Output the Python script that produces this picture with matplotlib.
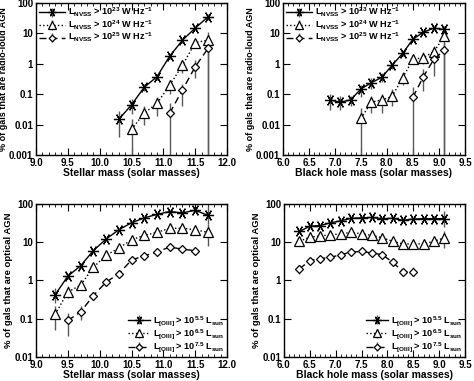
import numpy as np
import matplotlib
matplotlib.use("Agg")
import matplotlib.pyplot as plt
from matplotlib.ticker import FixedLocator, FuncFormatter, MultipleLocator, NullLocator

plt.rcParams['font.family'] = ['Liberation Sans', 'DejaVu Sans']
plt.rcParams['font.weight'] = 'bold'
plt.rcParams['mathtext.fontset'] = 'custom'
plt.rcParams['mathtext.rm'] = 'Liberation Sans:bold'
plt.rcParams['mathtext.bf'] = 'Liberation Sans:bold'
plt.rcParams['mathtext.it'] = 'Liberation Sans:bold'
plt.rcParams['mathtext.default'] = 'rm'

# ---- data: radio-loud AGN vs stellar mass ----
rs_x1 = [10.3, 10.5, 10.7, 10.9, 11.1, 11.3, 11.5, 11.7]
rs_y1 = [0.015, 0.045, 0.17, 0.38, 1.8, 6.0, 15.0, 35.0]
rs_lo1 = [0.004, 0.022, 0.13, 0.3, 1.5, 5.0, 13.0, 27.0]
rs_hi1 = [0.028, 0.07, 0.22, 0.46, 2.1, 7.0, 17.5, 45.0]
rs_x2 = [10.5, 10.7, 10.9, 11.1, 11.3, 11.5, 11.7]
rs_y2 = [0.007, 0.024, 0.05, 0.2, 0.9, 5.0, 6.0]
rs_lo2 = [0.0005, 0.01, 0.02, 0.1, 0.5, 3.5, 0.0005]
rs_hi2 = [0.015, 0.04, 0.08, 0.3, 1.3, 6.3, 11.0]
rs_x3 = [11.1, 11.3, 11.5, 11.7]
rs_y3 = [0.024, 0.14, 0.8, 3.2]
rs_lo3 = [0.0005, 0.04, 0.35, 0.0005]
rs_hi3 = [0.05, 0.22, 1.3, 6.0]

# ---- data: radio-loud AGN vs black hole mass ----
rb_x1 = [6.9, 7.1, 7.3, 7.5, 7.7, 7.9, 8.1, 8.3, 8.5, 8.7, 8.9, 9.1]
rb_y1 = [0.065, 0.055, 0.065, 0.15, 0.24, 0.36, 0.9, 2.2, 6.5, 11.0, 15.0, 13.5]
rb_lo1 = [0.03, 0.03, 0.04, 0.08, 0.15, 0.25, 0.7, 1.8, 5.5, 9.5, 13.0, 10.0]
rb_hi1 = [0.1, 0.09, 0.09, 0.2, 0.33, 0.5, 1.1, 2.6, 7.5, 12.5, 17.0, 17.0]
rb_x2 = [7.5, 7.7, 7.9, 8.1, 8.3, 8.5, 8.7, 8.9, 9.1]
rb_y2 = [0.016, 0.055, 0.065, 0.085, 0.35, 1.4, 1.6, 2.5, 8.0]
rb_lo2 = [0.0005, 0.025, 0.025, 0.04, 0.2, 1.0, 1.0, 1.5, 0.0005]
rb_hi2 = [0.035, 0.09, 0.1, 0.15, 0.55, 1.9, 2.5, 4.0, 13.0]
rb_x3 = [8.5, 8.7, 8.9, 9.1]
rb_y3 = [0.08, 0.38, 1.4, 2.8]
rb_lo3 = [0.0005, 0.13, 0.4, 0.0005]
rb_hi3 = [0.17, 0.7, 2.3, 5.0]

# ---- data: optical AGN vs stellar mass ----
os_x1 = [9.3, 9.5, 9.7, 9.9, 10.1, 10.3, 10.5, 10.7, 10.9, 11.1, 11.3, 11.5, 11.7]
os_y1 = [0.42, 1.3, 2.4, 6.0, 12.0, 21.0, 32.0, 43.0, 53.0, 63.0, 58.0, 68.0, 50.0]
os_lo1 = [0.25, 1.1, 2.1, 5.5, 11.0, 19.5, 30.0, 40.0, 49.0, 58.0, 53.0, 60.0, 30.0]
os_hi1 = [0.65, 1.5, 2.7, 6.5, 13.0, 22.5, 34.0, 46.0, 57.0, 68.0, 63.0, 76.0, 90.0]
os_x2 = [9.3, 9.5, 9.7, 9.9, 10.1, 10.3, 10.5, 10.7, 10.9, 11.1, 11.3, 11.5, 11.7]
os_y2 = [0.13, 0.5, 0.75, 2.2, 4.5, 7.0, 11.5, 15.0, 18.0, 23.0, 23.0, 21.0, 18.0]
os_lo2 = [0.05, 0.35, 0.62, 2.0, 4.1, 6.5, 10.8, 14.0, 16.8, 21.0, 21.0, 19.0, 8.0]
os_hi2 = [0.22, 0.7, 0.9, 2.4, 4.9, 7.5, 12.2, 16.0, 19.2, 25.0, 25.0, 23.0, 30.0]
os_x3 = [9.5, 9.7, 9.9, 10.1, 10.3, 10.5, 10.7, 10.9, 11.1, 11.3, 11.5]
os_y3 = [0.09, 0.15, 0.4, 0.9, 1.5, 3.4, 4.4, 5.5, 7.5, 6.5, 6.0]
os_lo3 = [0.035, 0.09, 0.3, 0.78, 1.35, 3.1, 4.0, 5.0, 6.8, 5.8, 5.2]
os_hi3 = [0.14, 0.21, 0.5, 1.02, 1.65, 3.7, 4.8, 6.0, 8.2, 7.2, 6.8]

# ---- data: optical AGN vs black hole mass ----
ob_x1 = [6.3, 6.5, 6.7, 6.9, 7.1, 7.3, 7.5, 7.7, 7.9, 8.1, 8.3, 8.5, 8.7, 8.9, 9.1]
ob_y1 = [19.0, 26.0, 27.0, 32.0, 36.0, 42.0, 43.0, 44.0, 41.0, 42.0, 37.0, 40.0, 41.0, 41.0, 41.0]
ob_lo1 = [17.0, 24.5, 25.5, 30.5, 34.5, 40.5, 41.5, 42.0, 39.0, 39.5, 34.5, 37.0, 37.0, 35.0, 25.0]
ob_hi1 = [21.0, 27.5, 28.5, 33.5, 37.5, 43.5, 44.5, 46.0, 43.0, 44.5, 39.5, 43.0, 45.0, 47.0, 65.0]
ob_x2 = [6.3, 6.5, 6.7, 6.9, 7.1, 7.3, 7.5, 7.7, 7.9, 8.1, 8.3, 8.5, 8.7, 8.9, 9.1]
ob_y2 = [10.5, 13.5, 14.5, 15.5, 16.5, 18.0, 16.5, 15.0, 13.0, 10.5, 9.0, 9.0, 9.0, 10.5, 13.0]
ob_lo2 = [9.5, 12.7, 13.8, 14.8, 15.8, 17.2, 15.8, 14.2, 12.2, 9.7, 8.2, 8.0, 7.8, 8.5, 7.0]
ob_hi2 = [11.5, 14.3, 15.2, 16.2, 17.2, 18.8, 17.2, 15.8, 13.8, 11.3, 9.8, 10.0, 10.2, 12.5, 20.0]
ob_x3 = [6.3, 6.5, 6.7, 6.9, 7.1, 7.3, 7.5, 7.7, 7.9, 8.1, 8.3, 8.5]
ob_y3 = [2.0, 3.3, 3.7, 4.0, 4.7, 5.5, 5.7, 5.2, 4.7, 3.0, 1.7, 1.7]
ob_lo3 = [1.5, 3.0, 3.4, 3.7, 4.4, 5.1, 5.3, 4.8, 4.3, 2.6, 1.45, 1.3]
ob_hi3 = [2.6, 3.6, 4.0, 4.3, 5.0, 5.9, 6.1, 5.6, 5.1, 3.4, 1.95, 2.2]

radio_labels = [r'L$_{\rm NVSS}$ > 10$^{23}$ W Hz$^{-1}$',
                r'L$_{\rm NVSS}$ > 10$^{24}$ W Hz$^{-1}$',
                r'L$_{\rm NVSS}$ > 10$^{25}$ W Hz$^{-1}$']
oiii_labels = [r'L$_{\rm [OIII]}$ > 10$^{5.5}$ L$_{\rm sun}$',
               r'L$_{\rm [OIII]}$ > 10$^{6.5}$ L$_{\rm sun}$',
               r'L$_{\rm [OIII]}$ > 10$^{7.5}$ L$_{\rm sun}$']

styles = [dict(marker=(6, 2, 90), ls='-', ms=8, mfc='k'),
          dict(marker='^', ls=':', ms=7, mfc='white'),
          dict(marker='D', ls=(0, (5, 3)), ms=4.5, mfc='white')]


def panel(ax, series, labels, xlim, ylim, yticks, xlabel, ylabel, loc, ylsize, hlen):
    for (x, y, lo, hi), st, lab in zip(series, styles, labels):
        y = np.array(y)
        err = [y - np.array(lo), np.array(hi) - y]
        ax.errorbar(x, y, yerr=err, color='k', ecolor='0.35', elinewidth=1,
                    capsize=0, lw=1, mec='k', mew=0.9, label=lab, **st)
    ax.set_yscale('log')
    ax.set_xlim(*xlim)
    ax.set_ylim(*ylim)
    ax.yaxis.set_major_locator(FixedLocator(yticks))
    ax.yaxis.set_minor_locator(NullLocator())
    ax.yaxis.set_major_formatter(FuncFormatter(lambda v, p: '%g' % v))
    ax.xaxis.set_major_locator(MultipleLocator(0.5))
    ax.xaxis.set_minor_locator(MultipleLocator(0.1))
    ax.xaxis.set_major_formatter(FuncFormatter(lambda v, p: '%.1f' % v))
    ax.tick_params(which='both', direction='in', top=True, right=True, labelsize=7, pad=2)
    ax.tick_params(which='major', length=5, width=0.8)
    ax.tick_params(which='minor', length=2.5, width=0.6)
    for s in ax.spines.values():
        s.set_linewidth(1)
    ax.set_xlabel(xlabel, fontsize=7.5, fontweight='bold', labelpad=0)
    ax.set_ylabel(ylabel, fontsize=ylsize, fontweight='bold', labelpad=1)
    leg = ax.legend(loc=loc, frameon=False, fontsize=6.6, handlelength=hlen,
                    labelspacing=-0.05, borderaxespad=0.15, handletextpad=0.3,
                    borderpad=0.15, markerscale=0.75)
    return leg


fig = plt.figure(figsize=(4.74, 3.81), dpi=100)
ax1 = fig.add_axes([0.076, 0.593, 0.403, 0.399])
ax2 = fig.add_axes([0.597, 0.593, 0.384, 0.399])
ax3 = fig.add_axes([0.076, 0.063, 0.403, 0.402])
ax4 = fig.add_axes([0.599, 0.063, 0.382, 0.402])

radio_ticks = [0.001, 0.01, 0.1, 1, 10, 100]
opt_ticks = [0.01, 0.1, 1, 10, 100]

panel(ax1, [(rs_x1, rs_y1, rs_lo1, rs_hi1), (rs_x2, rs_y2, rs_lo2, rs_hi2),
            (rs_x3, rs_y3, rs_lo3, rs_hi3)], radio_labels,
      (9.0, 12.0), (0.001, 100), radio_ticks, 'Stellar mass (solar masses)',
      '% of gals that are radio-loud AGN', 'upper left', 6.5, 2.9)
panel(ax2, [(rb_x1, rb_y1, rb_lo1, rb_hi1), (rb_x2, rb_y2, rb_lo2, rb_hi2),
            (rb_x3, rb_y3, rb_lo3, rb_hi3)], radio_labels,
      (6.0, 9.5), (0.001, 100), radio_ticks, 'Black hole mass (solar masses)',
      '% of gals that are radio-loud AGN', 'upper left', 6.5, 2.9)
panel(ax3, [(os_x1, os_y1, os_lo1, os_hi1), (os_x2, os_y2, os_lo2, os_hi2),
            (os_x3, os_y3, os_lo3, os_hi3)], oiii_labels,
      (9.0, 12.0), (0.01, 100), opt_ticks, 'Stellar mass (solar masses)',
      '% of gals that are optical AGN', 'lower right', 6.8, 2.4)
panel(ax4, [(ob_x1, ob_y1, ob_lo1, ob_hi1), (ob_x2, ob_y2, ob_lo2, ob_hi2),
            (ob_x3, ob_y3, ob_lo3, ob_hi3)], oiii_labels,
      (6.0, 9.5), (0.01, 100), opt_ticks, 'Black hole mass (solar masses)',
      '% of gals that are optical AGN', 'lower right', 6.8, 2.4)

fig.savefig('out.png', dpi=100)
